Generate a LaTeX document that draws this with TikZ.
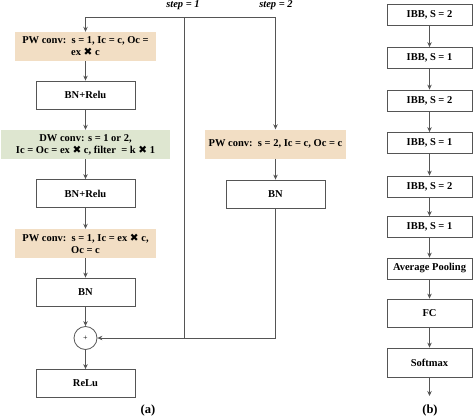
\documentclass[tikz,border=0pt]{standalone}
\usepackage{fontspec}
\setmainfont{Liberation Serif}
\newfontfamily\symfont{DejaVu Sans}
\usetikzlibrary{arrows.meta}
\definecolor{convbeige}{RGB}{242,222,196}
\definecolor{convgreen}{RGB}{222,230,208}
\definecolor{linegray}{RGB}{85,85,85}
\newcommand{\bx}{{\symfont\fontsize{10.5}{10}\selectfont ✖}}
\tikzset{
  every node/.style={font=\bfseries\fontsize{10.5}{12}\selectfont, inner sep=1pt},
  block/.style={draw=linegray, line width=0.8pt, minimum width=99pt, minimum height=28pt},
  convbox/.style={fill=convbeige, minimum width=141pt, minimum height=29pt, align=center},
  dwbox/.style={fill=convgreen, minimum width=169pt, minimum height=29pt, align=center},
  ibb/.style={draw=linegray, line width=0.8pt, minimum width=85pt, minimum height=21pt},
  link/.style={draw=linegray, line width=0.8pt},
  flow/.style={link, -{Stealth[length=5pt, width=4.5pt]}}
}
\begin{document}
\begin{tikzpicture}[x=1pt, y=-1pt]
    \useasboundingbox (0,0) rectangle (474,418);

    % Inverted bottleneck block (a)
    \node[convbox] (pw1) at (85.5,46.5) {PW conv:\ \ s = 1, Ic = c, Oc =\\ex \bx\ c};
    \node[block] (br1) at (85.5,95) {BN+Relu};
    \node[dwbox] (dw) at (85.5,144.5) {DW conv: s = 1 or 2,\\Ic = Oc = ex \bx\ c, filter\ \ = k \bx\ 1};
    \node[block] (br2) at (85.5,193.5) {BN+Relu};
    \node[convbox] (pw2) at (85.5,243.5) {PW conv:\ \ s = 1, Ic = ex \bx\ c,\\Oc = c};
    \node[block] (bn1) at (85.5,292) {BN};
    \node[draw=linegray, line width=0.8pt, circle, minimum size=23pt, inner sep=0pt, font=\fontsize{8}{9}\selectfont] (sum) at (85.5,338) {+};
    \node[block] (relu) at (85.5,383.5) {ReLu};
    \node (capa) at (148,410) {\fontsize{12.5}{14}\selectfont (a)};

    % Stride 2 branch
    \node[convbox] (pw3) at (275.5,144) {PW conv:\ \ s = 2, Ic = c, Oc = c};
    \node[block] (bn2) at (275.5,194) {BN};

    % Step labels
    \node[font=\bfseries\itshape\fontsize{10.5}{12}\selectfont] (step1) at (183,5.5) {step = 1};
    \node[font=\bfseries\itshape\fontsize{10.5}{12}\selectfont] (step2) at (276,5.5) {step = 2};

    % Connections (a)
    \coordinate (in) at (85.5,17);
    \coordinate (s1) at (184,17);
    \coordinate (s2) at (275.5,17);
    \draw[link] (in) -- (s2);
    \draw[flow] (in) -- (pw1);
    \draw[flow] (pw1) -- (br1);
    \draw[flow] (br1) -- (dw);
    \draw[flow] (dw) -- (br2);
    \draw[flow] (br2) -- (pw2);
    \draw[flow] (pw2) -- (bn1);
    \draw[flow] (bn1) -- (sum);
    \draw[flow] (sum) -- (relu);
    \draw[link] (s1) -- (s1 |- sum);
    \draw[flow] (s2) -- (pw3);
    \draw[flow] (pw3) -- (bn2);
    \draw[flow] (bn2.south) |- (sum.east);

    % Network (b)
    \node[ibb] (ibb1) at (429.5,14.5) {IBB, S = 2};
    \node[ibb] (ibb2) at (429.5,58) {IBB, S = 1};
    \node[ibb] (ibb3) at (429.5,100.5) {IBB, S = 2};
    \node[ibb] (ibb4) at (429.5,143) {IBB, S = 1};
    \node[ibb] (ibb5) at (429.5,186.5) {IBB, S = 2};
    \node[ibb] (ibb6) at (429.5,227) {IBB, S = 1};
    \node[ibb] (pool) at (429.5,268.5) {Average Pooling};
    \node[ibb, minimum height=28pt] (fc) at (429.5,313) {FC};
    \node[ibb, minimum height=29pt] (soft) at (429.5,362.5) {Softmax};
    \coordinate (out) at (429.5,396);
    \node (capb) at (430,410) {\fontsize{12.5}{14}\selectfont (b)};

    \foreach \a/\b in {ibb1/ibb2, ibb2/ibb3, ibb3/ibb4, ibb4/ibb5, ibb5/ibb6, ibb6/pool, pool/fc, fc/soft}
        \draw[flow] (\a) -- (\b);
    \draw[flow] (soft) -- (out);
\end{tikzpicture}
\end{document}
